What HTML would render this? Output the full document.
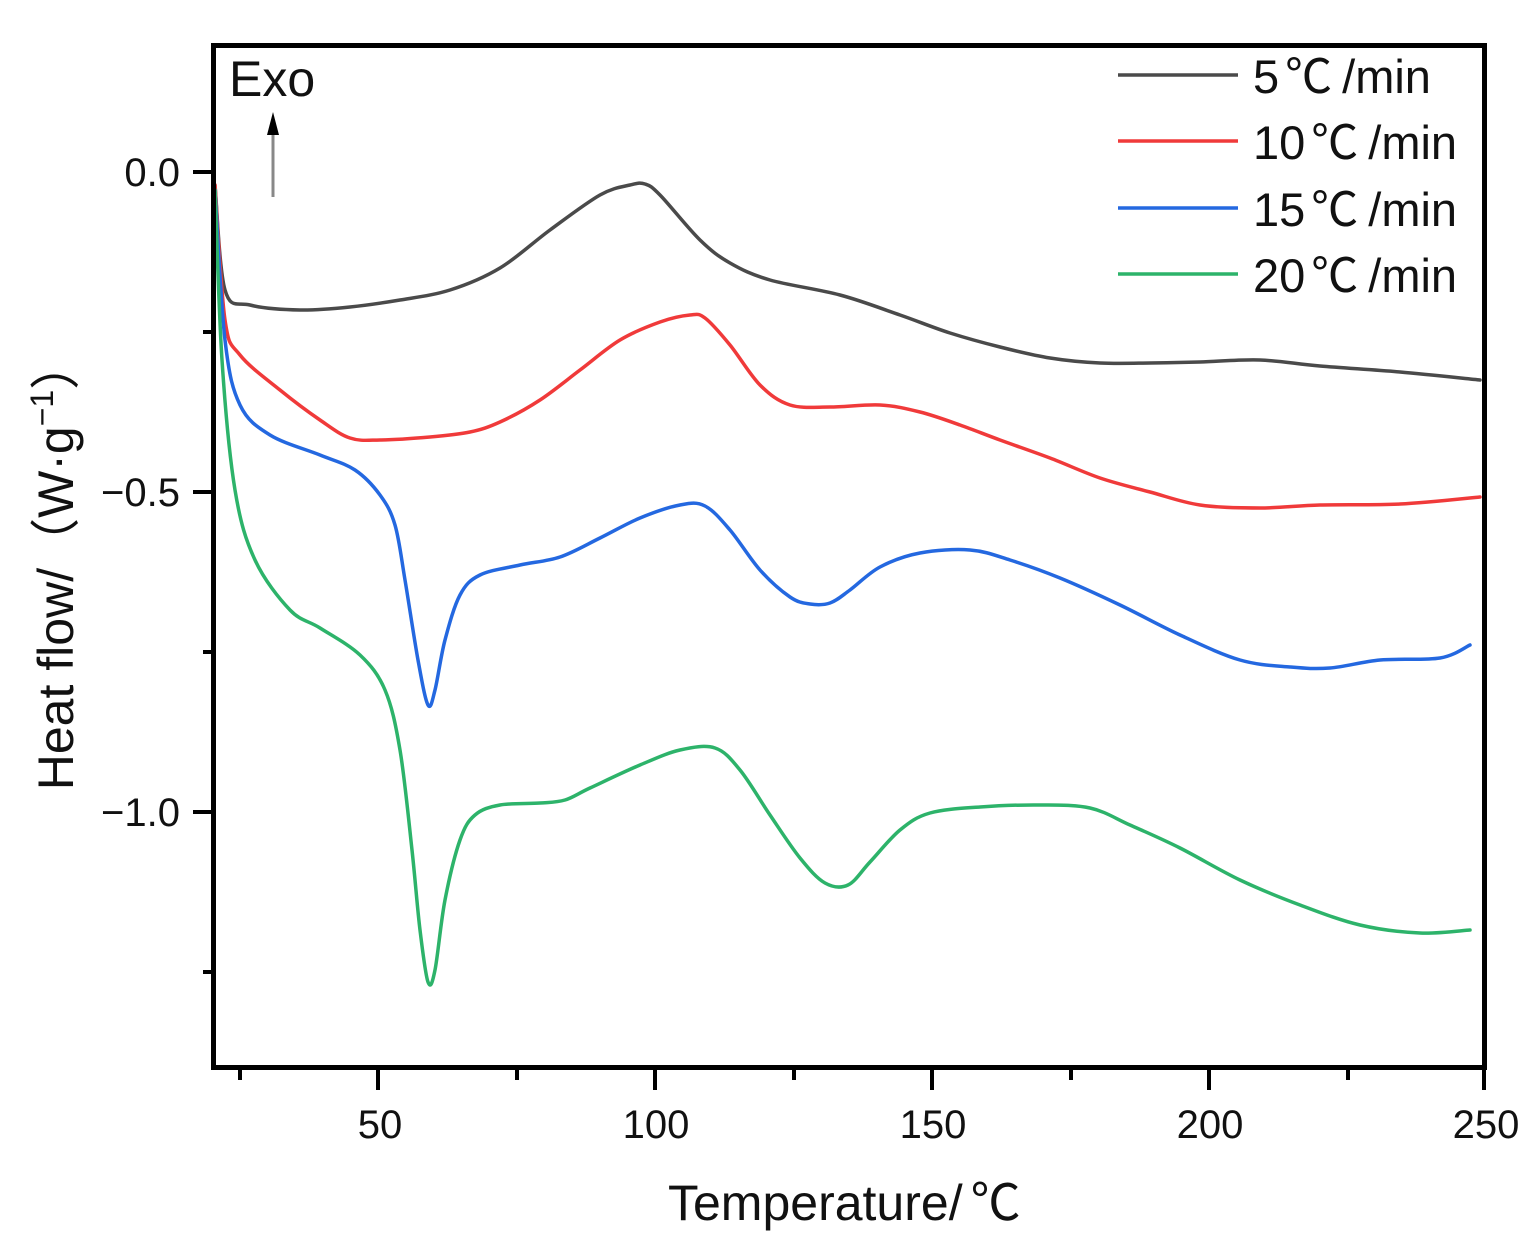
<!DOCTYPE html>
<html><head><meta charset="utf-8"><style>
html,body{margin:0;padding:0;background:#fff;}
svg{display:block;}
text{font-family:"Liberation Sans","Noto Sans CJK SC",sans-serif;fill:#111;}
.c{font-family:"Noto Sans CJK SC",sans-serif;}
</style></head><body>
<svg width="1538" height="1253" viewBox="0 0 1538 1253" xmlns="http://www.w3.org/2000/svg">
<g fill="none" stroke-width="3.5" stroke-linejoin="round" stroke-linecap="round">
<path id="s1" stroke="#4a4a4a" data-p="215,185 225,290 250,305 300,310 350,307 400,300 450,290 500,268 550,230 600,195 630,185 645,184 660,195 700,240 730,263 770,280 840,295 900,315 950,333 1000,347 1050,358 1100,363 1150,363 1200,362 1260,360 1320,366 1400,372 1480,380"/>
<path id="s2" stroke="#f03a3a" data-p="215,185 225,320 240,355 280,390 320,420 350,438 380,440 430,437 470,432 500,422 540,400 580,370 620,340 660,322 690,315 705,318 730,345 760,385 790,405 830,407 880,405 920,412 960,425 1000,440 1050,458 1100,478 1150,492 1200,505 1260,508 1320,505 1400,504 1480,497"/>
<path id="s3" stroke="#2468e0" data-p="215,190 225,340 240,405 270,435 320,455 355,470 380,495 395,525 405,580 418,660 428,705 435,690 445,640 460,595 480,575 520,565 560,557 600,538 640,518 680,505 705,506 730,530 760,570 790,597 810,604 830,603 850,590 880,567 920,553 970,550 1010,560 1060,578 1120,605 1180,635 1240,660 1290,667 1330,668 1380,660 1440,658 1470,645"/>
<path id="s4" stroke="#2db36a" data-p="215,190 222,360 235,490 255,560 290,610 320,628 360,655 385,690 400,750 412,850 420,930 428,982 435,970 445,900 460,840 475,815 500,805 540,803 565,800 590,788 640,765 680,750 715,748 740,770 770,815 800,858 825,883 848,885 870,862 900,830 930,813 980,807 1040,805 1090,808 1130,825 1180,848 1240,880 1300,905 1360,925 1420,933 1470,930"/>
</g>
<rect x="213.5" y="45.5" width="1271" height="1022" fill="none" stroke="#000" stroke-width="5"/>
<g stroke="#000" stroke-width="4">
<line x1="378" y1="1070" x2="378" y2="1090"/><line x1="655" y1="1070" x2="655" y2="1090"/><line x1="932" y1="1070" x2="932" y2="1090"/><line x1="1209" y1="1070" x2="1209" y2="1090"/><line x1="1484" y1="1070" x2="1484" y2="1090"/>
<line x1="240" y1="1070" x2="240" y2="1080"/><line x1="517" y1="1070" x2="517" y2="1080"/><line x1="794" y1="1070" x2="794" y2="1080"/><line x1="1071" y1="1070" x2="1071" y2="1080"/><line x1="1348" y1="1070" x2="1348" y2="1080"/>
<line x1="193" y1="172" x2="211" y2="172"/><line x1="193" y1="492" x2="211" y2="492"/><line x1="193" y1="812" x2="211" y2="812"/>
<line x1="203" y1="332" x2="211" y2="332"/><line x1="203" y1="652" x2="211" y2="652"/><line x1="203" y1="972" x2="211" y2="972"/>
</g>
<g font-size="40" text-anchor="middle">
<text x="380" y="1138">50</text><text x="656" y="1138">100</text><text x="933" y="1138">150</text><text x="1210" y="1138">200</text><text x="1486" y="1138">250</text>
</g>
<g font-size="40" text-anchor="end">
<text x="180" y="186">0.0</text><text x="180" y="506">−0.5</text><text x="180" y="826">−1.0</text>
</g>
<text x="668" y="1220" font-size="50">Temperature/<tspan class="c" dx="8">℃</tspan></text>
<text transform="translate(73,565) rotate(-90)" font-size="50" text-anchor="middle">Heat flow/<tspan class="c">（</tspan>W·g<tspan dy="-20" font-size="32">−1</tspan><tspan dy="20" class="c">）</tspan></text>
<text x="229" y="96" font-size="50">Exo</text>
<line x1="273" y1="197" x2="273" y2="130" stroke="#888" stroke-width="3"/>
<polygon points="273,112 267,135 279,135" fill="#000"/>
<g stroke-width="3.5">
<line x1="1118" y1="75" x2="1238" y2="75" stroke="#4a4a4a"/>
<line x1="1118" y1="141" x2="1238" y2="141" stroke="#f03a3a"/>
<line x1="1118" y1="208" x2="1238" y2="208" stroke="#2468e0"/>
<line x1="1118" y1="274" x2="1238" y2="274" stroke="#2db36a"/>
</g>
<g font-size="47">
<text x="1253" y="93">5<tspan class="c" dx="6">℃</tspan><tspan dx="10">/min</tspan></text>
<text x="1253" y="159">10<tspan class="c" dx="6">℃</tspan><tspan dx="10">/min</tspan></text>
<text x="1253" y="226">15<tspan class="c" dx="6">℃</tspan><tspan dx="10">/min</tspan></text>
<text x="1253" y="292">20<tspan class="c" dx="6">℃</tspan><tspan dx="10">/min</tspan></text>
</g>
</svg>
<script>
document.querySelectorAll('path[data-p]').forEach(function(el){
 var p=el.getAttribute('data-p').trim().split(/\s+/).map(function(s){return s.split(',').map(Number);});
 var d='M'+p[0][0]+','+p[0][1];
 for(var i=0;i<p.length-1;i++){
  var p0=p[i-1]||p[i],p1=p[i],p2=p[i+1],p3=p[i+2]||p2;
  var c1x=p1[0]+(p2[0]-p0[0])/6,c1y=p1[1]+(p2[1]-p0[1])/6;
  var c2x=p2[0]-(p3[0]-p1[0])/6,c2y=p2[1]-(p3[1]-p1[1])/6;
  d+=' C'+c1x.toFixed(1)+','+c1y.toFixed(1)+' '+c2x.toFixed(1)+','+c2y.toFixed(1)+' '+p2[0]+','+p2[1];
 }
 el.setAttribute('d',d);
});
</script>
</body></html>
